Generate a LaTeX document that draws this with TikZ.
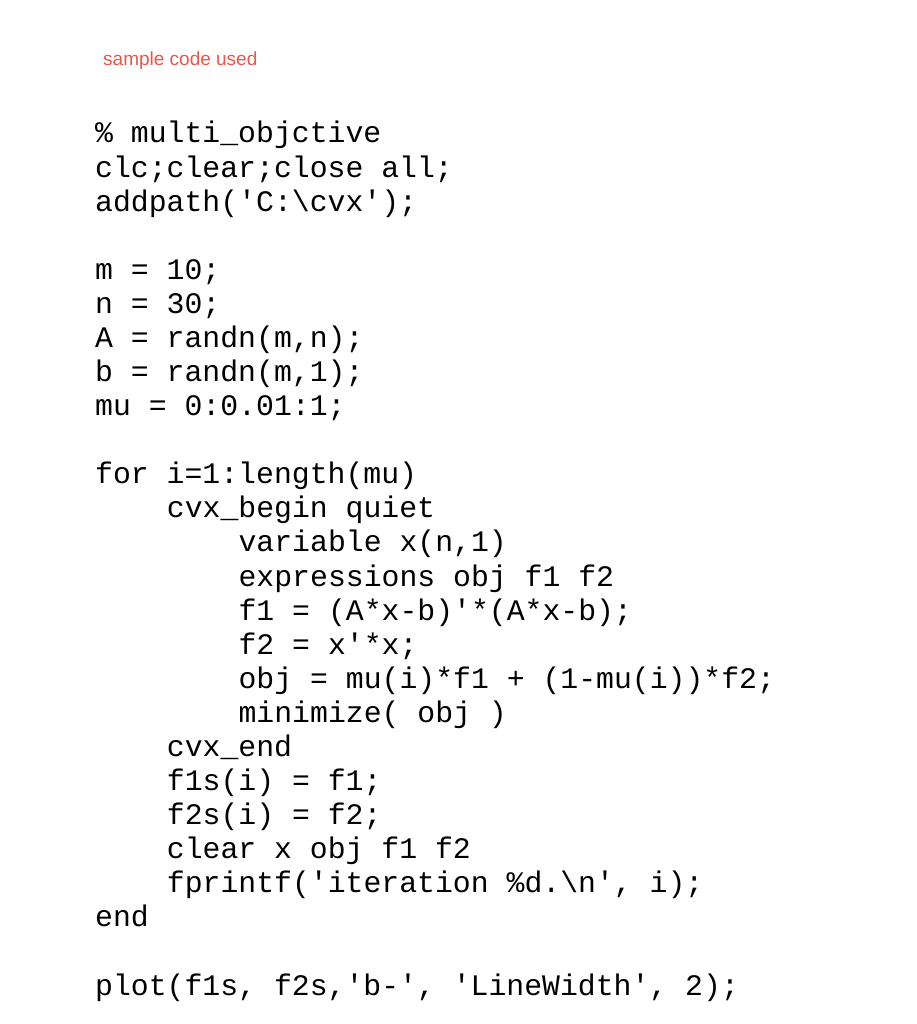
\documentclass[tikz,border=0pt]{standalone}
\usepackage{fontspec}
\newfontfamily\codefont{Liberation Mono}
\newfontfamily\titlefont{Liberation Sans}
\definecolor{titlered}{HTML}{E8574A}
\begin{document}
\begin{tikzpicture}[x=1pt,y=1pt,
  codeline/.style={anchor=base west,inner sep=0pt,font=\codefont\fontsize{29.8}{34}\selectfont}]
\useasboundingbox (0,0) rectangle (916,-1024);
\fill[white] (0,0) rectangle (916,-1024);
\node[anchor=base west,inner sep=0pt,text=titlered,font=\titlefont\fontsize{19}{22}\selectfont] (title) at (103,-66) {sample code used};
\newcommand{\cl}[3]{\node[codeline] (l#1) at ({95+71.7*#2},{-(143+34.08*(#1-1))}) {#3};}
\cl{1}{0}{\% multi\_objctive}
\cl{2}{0}{clc;clear;close all;}
\cl{3}{0}{addpath('C:\textbackslash cvx');}
\cl{5}{0}{m = 10;}
\cl{6}{0}{n = 30;}
\cl{7}{0}{A = randn(m,n);}
\cl{8}{0}{b = randn(m,1);}
\cl{9}{0}{mu = 0:0.01:1;}
\cl{11}{0}{for i=1:length(mu)}
\cl{12}{1}{cvx\_begin quiet}
\cl{13}{2}{variable x(n,1)}
\cl{14}{2}{expressions obj f1 f2}
\cl{15}{2}{f1 = (A*x-b)'*(A*x-b);}
\cl{16}{2}{f2 = x'*x;}
\cl{17}{2}{obj = mu(i)*f1 + (1-mu(i))*f2;}
\cl{18}{2}{minimize( obj )}
\cl{19}{1}{cvx\_end}
\cl{20}{1}{f1s(i) = f1;}
\cl{21}{1}{f2s(i) = f2;}
\cl{22}{1}{clear x obj f1 f2}
\cl{23}{1}{fprintf('iteration \%d.\textbackslash n', i);}
\cl{24}{0}{end}
\cl{26}{0}{plot(f1s, f2s,'b-', 'LineWidth', 2);}
\end{tikzpicture}
\end{document}
